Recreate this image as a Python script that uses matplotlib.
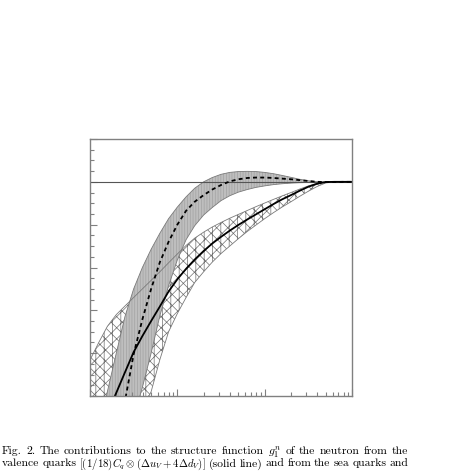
import matplotlib
matplotlib.use('Agg')
import matplotlib.pyplot as plt
from matplotlib.ticker import MultipleLocator, LogLocator, NullFormatter

# x grid (read at tenths of a decade)
x = [0.001, 0.00126, 0.00158, 0.002, 0.00251, 0.00316, 0.00398, 0.00501, 0.00631, 0.00794,
     0.01, 0.0126, 0.0158, 0.02, 0.0251, 0.0316, 0.0398, 0.0501, 0.0631, 0.0794,
     0.1, 0.126, 0.158, 0.2, 0.251, 0.316, 0.398, 0.501, 0.631, 0.794, 1.0]

# sea quarks (dashed) with band
sea = [-0.9, -0.6, -0.38, -0.2, -0.025, 0.195, 0.358, 0.50, 0.625, 0.72,
       0.80, 0.865, 0.907, 0.938, 0.964, 0.985, 1.002, 1.012, 1.018, 1.02,
       1.02, 1.018, 1.015, 1.012, 1.008, 1.004, 1.0, 0.999, 0.999, 1.0, 1.0]
sea_hi = [-0.35, -0.17, 0.02, 0.20, 0.37, 0.50, 0.60, 0.685, 0.76, 0.828,
          0.882, 0.93, 0.97, 1.0, 1.02, 1.035, 1.044, 1.048, 1.049, 1.048,
          1.044, 1.038, 1.03, 1.021, 1.012, 1.005, 1.0, 0.999, 0.999, 1.0, 1.0]
sea_lo = [-1.2, -0.9, -0.65, -0.42, -0.24, -0.1, 0.04, 0.20, 0.375, 0.515,
          0.635, 0.73, 0.795, 0.845, 0.88, 0.912, 0.935, 0.952, 0.964, 0.974,
          0.981, 0.987, 0.991, 0.994, 0.996, 0.997, 0.998, 0.999, 0.999, 1.0, 1.0]

# valence quarks (solid) with band
val = [-0.3, -0.19, -0.08, 0.015, 0.11, 0.205, 0.28, 0.35, 0.418, 0.488,
       0.545, 0.594, 0.637, 0.677, 0.712, 0.743, 0.772, 0.799, 0.824, 0.848,
       0.872, 0.896, 0.918, 0.938, 0.958, 0.977, 0.991, 0.999, 1.0, 1.0, 1.0]
val_hi = [0.168, 0.25, 0.325, 0.38, 0.42, 0.46, 0.50, 0.54, 0.58, 0.622,
          0.663, 0.703, 0.737, 0.765, 0.789, 0.81, 0.83, 0.848, 0.866, 0.884,
          0.901, 0.918, 0.934, 0.95, 0.966, 0.981, 0.993, 0.999, 1.0, 1.0, 1.0]
val_lo = [-0.75, -0.62, -0.5, -0.38, -0.27, -0.16, -0.06, 0.02, 0.17, 0.30,
          0.385, 0.46, 0.53, 0.58, 0.625, 0.665, 0.70, 0.735, 0.768, 0.798,
          0.828, 0.856, 0.882, 0.907, 0.932, 0.956, 0.978, 0.995, 1.0, 1.0, 1.0]

# caption, justified word by word like the printed page
line1 = ["Fig.", "2.", "The", "contributions", "to", "the", "structure", "function",
         r"$g_1^n$", "of", "the", "neutron", "from", "the"]
line2 = ["valence", "quarks", r"$[(1/18)C_q\otimes(\Delta u_V+4\Delta d_V)]$",
         "(solid", "line)", "and", "from", "the", "sea", "quarks", "and"]

plt.rcParams['mathtext.fontset'] = 'cm'
plt.rcParams['hatch.linewidth'] = 0.5

fig = plt.figure(figsize=(4.74, 4.74), dpi=100)
ax = fig.add_axes([90 / 474, 78 / 474, 262 / 474, 257 / 474])

ax.fill_between(x, val_lo, val_hi, facecolor='white', edgecolor='#707070',
                hatch='||xxx', linewidth=0)
ax.fill_between(x, sea_lo, sea_hi, facecolor='#bebebe', edgecolor='#a2a2a2',
                hatch='||||||', linewidth=0)
for b in (val_lo, val_hi, sea_lo, sea_hi):
    ax.plot(x, b, color='#7a7a7a', lw=0.6)

ax.axhline(1.0, color='#555555', lw=0.8)
ax.plot(x, val, color='black', lw=1.3)
ax.plot(x, sea, color='black', lw=1.3, ls='--', dashes=(2.2, 1.8))

ax.set_xscale('log')
ax.set_xlim(1e-3, 1)
ax.set_ylim(0, 1.2)
ax.yaxis.set_major_locator(MultipleLocator(0.2))
ax.yaxis.set_minor_locator(MultipleLocator(0.05))
ax.xaxis.set_minor_locator(LogLocator(subs=range(2, 10)))
ax.xaxis.set_minor_formatter(NullFormatter())
ax.tick_params(which='both', direction='in', top=False, right=False,
               labelbottom=False, labelleft=False, color='#808080')
ax.tick_params(which='major', length=5, width=0.8)
ax.tick_params(which='minor', length=3, width=0.8)
for s in ax.spines.values():
    s.set_color('#808080')
    s.set_linewidth(1.0)


def justify(words, y, x0=2, x1=408, size=8.4, math_size=7.8):
    r = fig.canvas.get_renderer()
    txts = []
    for w in words:
        fs = math_size if (w.startswith('$') and len(w) > 12) else size
        txts.append(fig.text(0, y, w, fontsize=fs, family='cmr10', va='baseline'))
    widths = [t.get_window_extent(r).width for t in txts]
    gap = (x1 - x0 - sum(widths)) / (len(txts) - 1)
    px = x0
    for t, w in zip(txts, widths):
        t.set_x(px / 474)
        px += w + gap


justify(line1, (474 - 454.5) / 474)
justify(line2, (474 - 466.5) / 474)

fig.savefig('out.png', dpi=100)
